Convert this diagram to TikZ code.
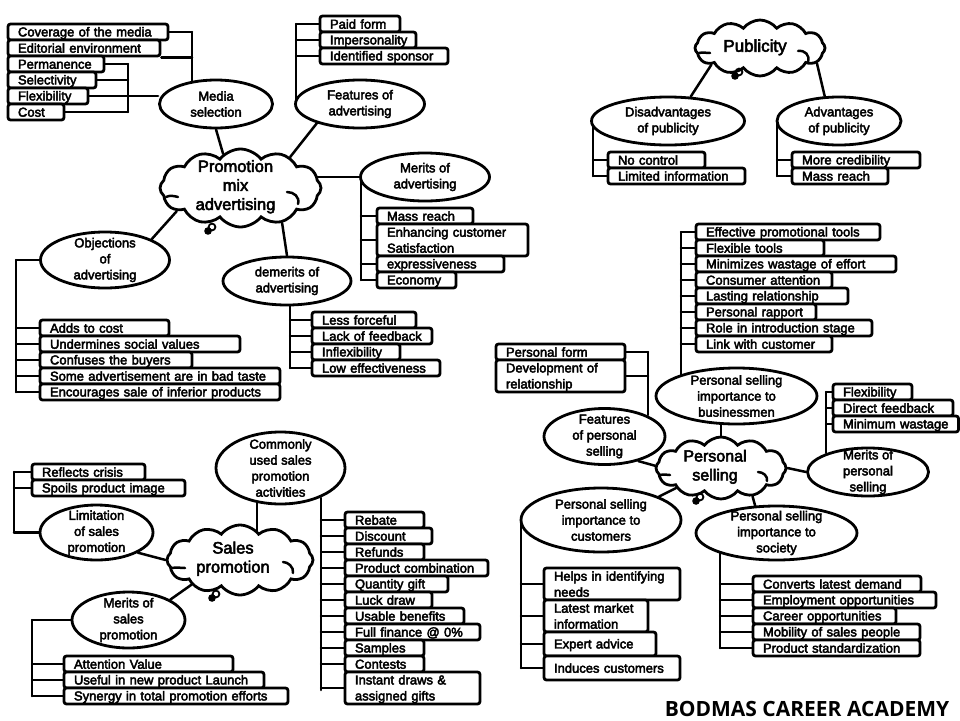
\documentclass[tikz,border=0pt]{standalone}
\usepackage{fontspec}
\setmainfont{Liberation Sans}[FakeBold=3.2]
\newfontfamily\brandfont{Open Sans}
\usetikzlibrary{shapes.geometric,shapes.symbols,backgrounds}
\tikzset{
 x=1pt,y=-1pt,
 conn/.style={line width=2.5pt,line cap=round},
 bxs/.style={draw,line width=2.8pt,rounded corners=2.5pt,fill=white,inner xsep=2pt,inner ysep=0pt,align=left,
   font=\fontsize{13}{16}\selectfont,anchor=center},
 ells/.style={draw,ellipse,line width=2.8pt,fill=white,inner sep=-15pt,align=center,
   font=\fontsize{13}{16}\selectfont,anchor=center},
 clouds/.style={draw,cloud,cloud puffs=12,cloud puff arc=105,line width=2.8pt,fill=white,inner sep=1pt,
   font=\fontsize{16.5}{19}\selectfont,anchor=center},
 curl/.style={line width=2.5pt,line cap=round}
}
\newcommand\lnstrut{\rule[-2.2pt]{0pt}{13.8pt}}
\newcommand\bx[6]{%
 \pgfmathsetmacro\bw{#4-#2}\pgfmathsetmacro\bh{#5-#3}\pgfmathsetmacro\bt{#4-#2-4}%
 \node[bxs,text width=\bt pt,minimum width=\bw pt,minimum height=\bh pt] (#1) at ({(#2+#4)/2},{(#3+#5)/2}) {\leftskip=8pt\hyphenpenalty=10000 \lnstrut #6\lnstrut\par};}
\newcommand\el[6]{%
 \node[ells,minimum width=#4pt,minimum height=#5pt] (#1) at (#2,#3) {#6};}
\newcommand\cltext[3][-7pt]{\makebox[0pt]{\kern#2\raisebox{#1}{\smash{\begin{tabular}[c]{@{}c@{}}#3\end{tabular}}}}}
\newcommand\br[2]{\draw[conn] (#2.west) -- (#2.west -| #1);}
\newcommand\brr[2]{\draw[conn] (#2.east) -- (#2.east -| #1);}
\newcommand\bub[2]{\draw[line width=1.8pt] (#1+4,#2-4) circle (3.4pt);\fill (#1,#2) circle (3.8pt);}
\begin{document}
\begin{tikzpicture}
\useasboundingbox (0,0) rectangle (960,720);
% ---- Promotion mix
\node[clouds,minimum width=161pt,minimum height=78pt] (pm) at (240.5,188) {\cltext{-10pt}{Promotion\\mix\\advertising}};
\el{media}{216}{104}{113}{48}{Media\\selection}
\el{feat}{360}{104}{129}{48}{Features of\\advertising}
\el{merit}{425}{177}{129}{48}{Merits of\\advertising}
\el{obj}{105}{260}{129}{56}{Objections\\of\\advertising}
\el{dem}{287}{281}{128}{48}{demerits of\\advertising}
\bx{b1}{8}{24}{168}{40}{Coverage of the media}
\bx{b2}{8}{40}{160}{56}{Editorial environment}
\bx{b3}{8}{56}{104}{72}{Permanence}
\bx{b4}{8}{72}{96}{88}{Selectivity}
\bx{b5}{8}{88}{88}{104}{Flexibility}
\bx{b6}{8}{104}{64}{120}{Cost}
\bx{c1}{320}{16}{400}{32}{Paid form}
\bx{c2}{320}{32}{416}{48}{Impersonality}
\bx{c3}{320}{48}{448}{64}{Identified sponsor}
\bx{d1}{377}{208}{473}{224}{Mass reach}
\bx{d2}{377}{224}{528}{256}{Enhancing customer\\Satisfaction}
\bx{d3}{377}{256}{504}{272}{expressiveness}
\bx{d4}{377}{272}{456}{288}{Economy}
\bx{e1}{40}{320}{169}{336}{Adds to cost}
\bx{e2}{40}{336}{240}{352}{Undermines social values}
\bx{e3}{40}{352}{192}{368}{Confuses the buyers}
\bx{e4}{40}{368}{280}{384}{Some advertisement are in bad taste}
\bx{e5}{40}{384}{280}{400}{Encourages sale of inferior products}
\bx{f1}{312}{312}{416}{328}{Less forceful}
\bx{f2}{312}{328}{432}{344}{Lack of feedback}
\bx{f3}{312}{344}{400}{360}{Inflexibility}
\bx{f4}{312}{360}{440}{376}{Low effectiveness}
% ---- Publicity
\node[clouds,minimum width=130pt,minimum height=56pt] (pub) at (760,48) {\fontsize{17}{19}\selectfont\cltext[-8.5pt]{-10pt}{Publicity}};
\el{dis}{668}{121}{153}{48}{Disadvantages\\of publicity}
\el{adv}{839}{121}{124}{48}{Advantages\\of publicity}
\bx{g1}{608}{152}{705}{168}{No control}
\bx{g2}{608}{168}{745}{184}{Limited information}
\bx{h1}{792}{152}{920}{168}{More credibility}
\bx{h2}{792}{168}{888}{184}{Mass reach}
% ---- Personal selling
\node[clouds,minimum width=130pt,minimum height=62pt] (ps) at (721,468) {\fontsize{16}{19}\selectfont\cltext{-12pt}{Personal\\selling}};
\el{busi}{736.5}{396}{161}{56}{Personal selling\\importance to\\businessmen}
\el{fps}{604.5}{436.5}{121}{56}{Features\\of personal\\selling}
\el{mps}{868}{472}{121}{48}{Merits of\\personal\\selling}
\el{cust}{601}{520}{160}{64}{Personal selling\\importance to\\customers}
\el{soc}{776.5}{533}{161}{54}{Personal selling\\importance to\\society}
\bx{i1}{696}{224}{880}{240}{Effective promotional tools}
\bx{i2}{696}{240}{824}{256}{Flexible tools}
\bx{i3}{696}{256}{896}{272}{Minimizes wastage of effort}
\bx{i4}{696}{272}{832}{288}{Consumer attention}
\bx{i5}{696}{288}{848}{304}{Lasting relationship}
\bx{i6}{696}{304}{816}{320}{Personal rapport}
\bx{i7}{696}{320}{872}{336}{Role in introduction stage}
\bx{i8}{696}{336}{832}{352}{Link with customer}
\bx{j1}{496}{344}{625}{360}{Personal form}
\bx{j2}{496}{360}{625}{392}{Development of\\relationship}
\bx{k1}{833}{384}{912}{400}{Flexibility}
\bx{k2}{833}{400}{953}{416}{Direct feedback}
\bx{k3}{833}{416}{958.5}{432}{Minimum wastage}
\bx{l1}{544}{568}{680}{600}{Helps in identifying\\needs}
\bx{l2}{544}{600}{648}{632}{Latest market\\information}
\bx{l3}{544}{632}{656}{656}{Expert advice}
\bx{l4}{544}{656}{680}{680}{Induces customers}
\bx{m1}{753}{576}{921}{592}{Converts latest demand}
\bx{m2}{753}{592}{936}{608}{Employment opportunities}
\bx{m3}{753}{608}{896}{624}{Career opportunities}
\bx{m4}{753}{624}{920}{640}{Mobility of sales people}
\bx{m5}{753}{640}{920}{656}{Product standardization}
% ---- Sales promotion
\node[clouds,minimum width=146pt,minimum height=70pt] (sp) at (240,560) {\cltext{-14pt}{Sales\\promotion}};
\el{lim}{96.5}{532.5}{113}{55}{Limitation\\of sales\\promotion}
\el{msp}{128.5}{620}{113}{56}{Merits of\\sales\\promotion}
\el{com}{280.5}{468}{129}{72}{Commonly\\used sales\\promotion\\activities}
\bx{n1}{32}{464}{145}{480}{Reflects crisis}
\bx{n2}{32}{480}{185}{496}{Spoils product image}
\bx{o1}{64}{656}{233}{672}{Attention Value}
\bx{o2}{64}{672}{264}{688}{Useful in new product Launch}
\bx{o3}{64}{688}{288}{704}{Synergy in total promotion efforts}
\bx{q1}{345}{512}{424}{528}{Rebate}
\bx{q2}{345}{528}{432}{544}{Discount}
\bx{q3}{345}{544}{424}{560}{Refunds}
\bx{q4}{345}{560}{488}{576}{Product combination}
\bx{q5}{345}{576}{448}{592}{Quantity gift}
\bx{q6}{345}{592}{432}{608}{Luck draw}
\bx{q7}{345}{608}{464}{624}{Usable benefits}
\bx{q8}{345}{624}{480}{640}{Full finance @ 0\%}
\bx{q9}{345}{640}{424}{656}{Samples}
\bx{q10}{345}{656}{424}{672}{Contests}
\bx{q11}{345}{672}{480}{704}{Instant draws \&\\assigned gifts}
\node[font=\fontsize{21}{23}\brandfont\bfseries,anchor=center,inner sep=0pt] (brand) at (807,708.5) {BODMAS CAREER ACADEMY};
% spine coordinates
\coordinate (sa) at (192,32); \coordinate (sa2) at (192,88);
\coordinate (sb) at (128,64); \coordinate (sb2) at (128,112);
\coordinate (sc) at (296,24); \coordinate (sc2) at (296,104);
\coordinate (sd) at (361,177); \coordinate (sd2) at (361,280);
\coordinate (se) at (16,260); \coordinate (se2) at (16,392);
\coordinate (sf) at (290,300); \coordinate (sf2) at (290,368);
\coordinate (sg) at (593,121); \coordinate (sg2) at (593,176);
\coordinate (sh) at (777,121); \coordinate (sh2) at (777,176);
\coordinate (si) at (681,232); \coordinate (si2) at (681,375);
\coordinate (sj) at (648,352); \coordinate (sj2) at (648,415);
\coordinate (sk) at (826,392); \coordinate (sk2) at (826,453);
\coordinate (sl) at (521,520); \coordinate (sl2) at (521,668);
\coordinate (sm) at (720,553); \coordinate (sm2) at (720,648);
\coordinate (sn) at (14,472); \coordinate (sn2) at (14,532.5);
\coordinate (so) at (32,620); \coordinate (so2) at (32,696);
\coordinate (sq) at (321,498); \coordinate (sq2) at (321,690);
\coordinate (cv) at (257,515);
\begin{scope}[on background layer]
\draw[conn] (media.south) -- (pm.117);
\draw[conn] (feat.204) -- (pm.32);
\draw[conn] (merit.west) -- (merit.west -| pm.center);
\draw[conn] (obj.24) -- (pm.200);
\draw[conn] (dem.north) -- (pm.320);
\draw[conn] (sa) -- (sa2); \draw[conn] (sb) -- (sb2);
\brr{sa}{b1} \draw[conn] (b2.south east) -- (b2.south east -| sa);
\brr{sb}{b3} \brr{sb}{b4} \brr{sb}{b6}
\draw[conn] (b5.east) -- (b5.east -| media.west);
\draw[conn] (sc) -- (sc2); \br{sc}{c1} \br{sc}{c2} \br{sc}{c3}
\draw[conn] (sd) -- (sd2); \br{sd}{d1} \br{sd}{d2} \br{sd}{d3} \br{sd}{d4}
\draw[conn] (se) -- (se2); \br{se}{e1} \br{se}{e2} \br{se}{e3} \br{se}{e4} \br{se}{e5} \draw[conn] (se) -- (obj.west);
\draw[conn] (sf) -- (sf2); \br{sf}{f1} \br{sf}{f2} \br{sf}{f3} \br{sf}{f4}
\draw[conn] (dis.47) -- (pub.199);
\draw[conn] (adv.120) -- (pub.345);
\draw[conn] (sg) -- (sg2); \br{sg}{g1} \br{sg}{g2}
\draw[conn] (sh) -- (sh2); \br{sh}{h1} \br{sh}{h2}
\draw[conn] (ps.center |- busi.south) -- (ps.center);
\draw[conn] (fps.324) -- (ps.178);
\draw[conn] (mps.west) -- (ps.east);
\draw[conn] (cust.22) -- (ps.204);
\draw[conn] (soc.128) -- (ps.318);
\draw[conn] (si) -- (si2); \foreach \n in {i1,i2,i3,i4,i5,i6,i7,i8} {\br{si}{\n}}
\draw[conn] (sj) -- (sj2); \brr{sj}{j1} \brr{sj}{j2}
\draw[conn] (sk) -- (sk2); \br{sk}{k1} \br{sk}{k2} \br{sk}{k3}
\draw[conn] (sl) -- (sl2); \br{sl}{l1} \br{sl}{l2} \br{sl}{l3} \br{sl}{l4}
\draw[conn] (sm) -- (sm2); \foreach \n in {m1,m2,m3,m4,m5} {\br{sm}{\n}}
\draw[conn] (lim.334) -- (sp.180);
\draw[conn] (msp.26) -- (sp.207);
\draw[conn] (cv |- com.center) -- (cv |- sp.center);
\draw[conn] (sn) -- (sn2); \br{sn}{n1} \br{sn}{n2} \draw[conn] (sn2) -- (lim.west);
\draw[conn] (so) -- (so2); \br{so}{o1} \br{so}{o2} \br{so}{o3} \draw[conn] (so) -- (msp.west);
\draw[conn] (sq) -- (sq2); \foreach \n in {q1,q2,q3,q4,q5,q6,q7,q8,q9,q10,q11} {\br{sq}{\n}}
\end{scope}
% thought bubbles
\bub{208}{231}
\bub{735}{76}
\bub{696}{501}
\bub{212}{598}
% cloud inner curls
\draw[curl] (287,192) .. controls (294,192) and (300,197) .. (298,204);
\draw[curl] (166,197) .. controls (170,195) and (174,196) .. (178,197);
\draw[curl] (798,51) .. controls (805,50) and (810,55) .. (808,62);
\draw[curl] (699,53) .. controls (703,52) and (706,53) .. (710,53);
\draw[curl] (758,472) .. controls (763,472) and (768,476) .. (767,481);
\draw[curl] (660,475) .. controls (664,474) and (667,475) .. (670,475);
\draw[curl] (283,562) .. controls (288,562) and (294,567) .. (293,573);
\draw[curl] (172,568) .. controls (176,567) and (181,568) .. (185,568);
\end{tikzpicture}
\end{document}
